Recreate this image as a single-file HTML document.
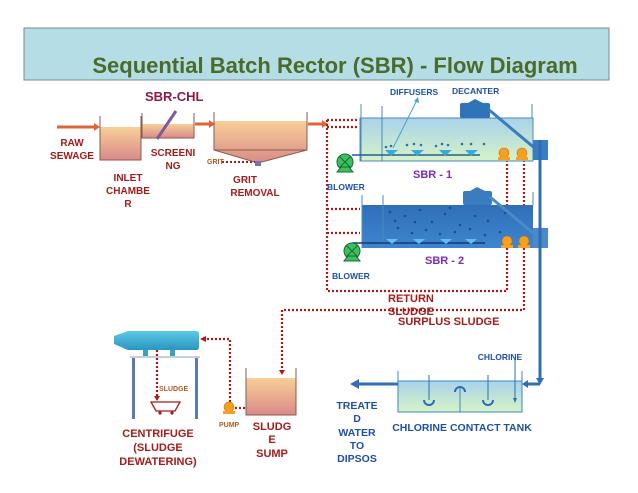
<!DOCTYPE html>
<html><head><meta charset="utf-8"><style>
html,body{margin:0;padding:0;background:#fff;}
svg{display:block;font-family:"Liberation Sans",Arial,sans-serif;font-weight:bold;}
</style></head><body>
<svg width="638" height="493" viewBox="0 0 638 493" xmlns="http://www.w3.org/2000/svg">
<defs>
<linearGradient id="tan" x1="0" y1="0" x2="0" y2="1"><stop offset="0" stop-color="#f7cf98"/><stop offset="1" stop-color="#d98a88"/></linearGradient>
<linearGradient id="lb" x1="0" y1="0" x2="0" y2="1"><stop offset="0" stop-color="#a9d2ea"/><stop offset="1" stop-color="#d6f3c6"/></linearGradient>
<linearGradient id="db" x1="0" y1="0" x2="0" y2="1"><stop offset="0" stop-color="#2f6fb8"/><stop offset="1" stop-color="#3d86cf"/></linearGradient>
<linearGradient id="cy" x1="0" y1="0" x2="0" y2="1"><stop offset="0" stop-color="#5cc8e6"/><stop offset="1" stop-color="#2a95bf"/></linearGradient>
</defs>
<rect x="24" y="28" width="585" height="52" fill="#b4dde6" stroke="#7a8a90" stroke-width="1"/>
<text x="335" y="73" font-size="22" fill="#4a6b2a" text-anchor="middle" font-family="Liberation Sans, sans-serif">Sequential Batch Rector (SBR) - Flow Diagram</text>
<text x="145" y="101" font-size="13" fill="#8a1a4a">SBR-CHL</text>

<line x1="57" y1="127" x2="95" y2="127" stroke="#e2633a" stroke-width="3"/>
<polygon points="94,123 100,127 94,131" fill="#e2633a"/>
<g fill="#a31c1c" font-size="10" text-anchor="middle">
<text x="72" y="146">RAW</text><text x="72" y="159">SEWAGE</text>
<text x="173" y="156">SCREENI</text><text x="173" y="169">NG</text>
<text x="128" y="181">INLET</text><text x="128" y="194">CHAMBE</text><text x="128" y="207">R</text>
<text x="245" y="183">GRIT</text><text x="255" y="196">REMOVAL</text>
</g>
<rect x="100" y="127" width="41" height="33" fill="url(#tan)"/>
<path d="M100,116 V160 H141 V116" fill="none" stroke="#8a5a50" stroke-width="1"/>
<rect x="142" y="124" width="52" height="14" fill="url(#tan)"/>
<path d="M142,113 V138 H194 V113" fill="none" stroke="#8a5a50" stroke-width="1"/>
<line x1="157" y1="139" x2="176" y2="111" stroke="#7a5aa0" stroke-width="3"/>
<line x1="195" y1="124" x2="210" y2="124" stroke="#e2633a" stroke-width="3"/>
<polygon points="209,120 215,124 209,128" fill="#e2633a"/>
<path d="M214,121 H307 V150 L258,163 L214,150 Z" fill="url(#tan)"/>
<path d="M214,112 V150 L258,163 L307,150 V112 M214,150 H307" fill="none" stroke="#8a5a50" stroke-width="1"/>
<rect x="255" y="161" width="6" height="5" fill="#6a7ab0"/>
<line x1="222" y1="162" x2="255" y2="162" stroke="#a31c1c" stroke-width="2" stroke-dasharray="2,2"/>
<text x="207" y="164" font-size="7" fill="#b05a20">GRIT</text>
<line x1="308" y1="124" x2="323" y2="124" stroke="#e2633a" stroke-width="3"/>
<polygon points="322,120 328,124 322,128" fill="#e2633a"/>

<g stroke="#b01818" stroke-width="2.2" stroke-dasharray="2,2" fill="none">
<path d="M327,120 V291 H507 V160"/>
<path d="M327,120 H358 M327,127 H358 M327,209 H360 M327,233 H360"/>
<path d="M282,372 V310 H524 V160"/>
<path d="M230,402 V339 H202"/>
<path d="M235,408 H246"/>
<path d="M157,350 V397"/>
</g>

<rect x="360" y="118" width="173" height="43" fill="url(#lb)" stroke="#4a88c0" stroke-width="1"/>
<line x1="361" y1="104" x2="361" y2="161" stroke="#4a88c0"/>
<line x1="382" y1="106" x2="382" y2="161" stroke="#4a88c0"/>
<line x1="532" y1="104" x2="532" y2="118" stroke="#4a88c0"/>
<rect x="460" y="103" width="30" height="15" rx="2" fill="#2f73b8"/>
<polygon points="468,103 475,99 483,103" fill="#2f73b8"/>
<line x1="488" y1="109" x2="537" y2="150" stroke="#3a7cc0" stroke-width="3"/>
<line x1="352" y1="155" x2="480" y2="155" stroke="#2a5a90" stroke-width="1.5"/>
<g fill="#39a8dd"><polygon points="385,150 398,150 391,156"/><polygon points="411,150 424,150 417,156"/><polygon points="439,150 452,150 445,156"/><polygon points="465,150 478,150 471,156"/></g>
<g fill="#3070b0"><circle cx="386" cy="147" r="1.3"/><circle cx="391" cy="146" r="1.3"/><circle cx="407" cy="145" r="1.3"/><circle cx="414" cy="144" r="1.3"/><circle cx="421" cy="145" r="1.3"/><circle cx="436" cy="146" r="1.3"/><circle cx="442" cy="144" r="1.3"/><circle cx="448" cy="145" r="1.3"/><circle cx="462" cy="144" r="1.3"/><circle cx="471" cy="144" r="1.3"/><circle cx="484" cy="144" r="1.3"/></g>
<line x1="393" y1="148" x2="417" y2="100" stroke="#4aa0d8" stroke-width="1"/>
<polygon points="414,101 418,97 419,103" fill="#4aa0d8"/>
<rect x="362" y="205" width="171" height="43" fill="url(#db)"/>
<line x1="362" y1="195" x2="362" y2="248" stroke="#4a88c0"/>
<line x1="383" y1="195" x2="383" y2="248" stroke="#4a88c0"/>
<line x1="533" y1="192" x2="533" y2="205" stroke="#4a88c0"/>
<rect x="463" y="191" width="29" height="14" rx="2" fill="#3a7cc0"/>
<polygon points="470,191 477,187 485,191" fill="#3a7cc0"/>
<line x1="490" y1="197" x2="538" y2="237" stroke="#4a8ac8" stroke-width="3"/>
<line x1="352" y1="243" x2="485" y2="243" stroke="#1a3a70" stroke-width="1.5"/>
<g fill="#60c0ee"><polygon points="386,239 398,239 392,244"/><polygon points="413,239 425,239 419,244"/><polygon points="440,239 452,239 446,244"/><polygon points="465,239 477,239 471,244"/></g>
<g fill="#1e4f90"><circle cx="390" cy="212" r="1.3"/><circle cx="405" cy="216" r="1.3"/><circle cx="420" cy="210" r="1.3"/><circle cx="432" cy="222" r="1.3"/><circle cx="445" cy="214" r="1.3"/><circle cx="460" cy="225" r="1.3"/><circle cx="475" cy="216" r="1.3"/><circle cx="398" cy="228" r="1.3"/><circle cx="412" cy="233" r="1.3"/><circle cx="426" cy="230" r="1.3"/><circle cx="440" cy="234" r="1.3"/><circle cx="455" cy="232" r="1.3"/><circle cx="470" cy="229" r="1.3"/><circle cx="488" cy="221" r="1.3"/><circle cx="500" cy="232" r="1.3"/><circle cx="395" cy="221" r="1.3"/><circle cx="415" cy="222" r="1.3"/><circle cx="450" cy="208" r="1.3"/><circle cx="505" cy="213" r="1.3"/><circle cx="485" cy="235" r="1.3"/></g>
<rect x="533" y="140" width="15" height="20" fill="#3a7cc0"/>
<rect x="533" y="228" width="15" height="20" fill="#4a8ac8"/>
<line x1="540" y1="140" x2="540" y2="382" stroke="#2f6fb0" stroke-width="3"/>
<polygon points="536,378 540,385 544,378" fill="#2f6fb0"/>
<line x1="540" y1="384" x2="526" y2="384" stroke="#2f6fb0" stroke-width="3"/>
<polygon points="528,380 522,384 528,388" fill="#2f6fb0"/>
<g fill="#f5a020" stroke="#c07010" stroke-width="0.6">
<circle cx="504" cy="153" r="5"/><circle cx="522" cy="153" r="5"/>
<circle cx="507" cy="241" r="5"/><circle cx="524" cy="241" r="5"/>
<circle cx="229" cy="407" r="5"/>
</g>
<g fill="#f5a020"><rect x="498" y="157" width="12" height="3"/><rect x="516" y="157" width="12" height="3"/><rect x="501" y="245" width="12" height="3"/><rect x="518" y="245" width="12" height="3"/><rect x="223" y="411" width="12" height="3"/></g>
<g stroke="#1a6a30" stroke-width="1">
<circle cx="345" cy="162" r="8" fill="#3cc060"/><path d="M339,156 L351,168 M351,156 L339,168"/>
<polygon points="337,172 353,172 349,167 341,167" fill="#3cc060"/>
<circle cx="352" cy="251" r="8" fill="#3cc060"/><path d="M346,245 L358,257 M358,245 L346,257"/>
<polygon points="344,261 360,261 356,256 348,256" fill="#3cc060"/>
</g>
<g fill="#1f4fa8" font-size="8.5"><text x="327" y="190">BLOWER</text><text x="332" y="279">BLOWER</text>
<text x="390" y="95">DIFFUSERS</text><text x="452" y="94">DECANTER</text></g>
<g fill="#7a2ac0" font-size="11"><text x="413" y="178">SBR - 1</text><text x="425" y="264">SBR - 2</text></g>
<g fill="#a31c1c" font-size="11"><text x="388" y="302">RETURN</text><text x="388" y="315">SLUDGE</text><text x="398" y="325">SURPLUS SLUDGE</text></g>

<rect x="398" y="381" width="124" height="31" fill="url(#lb)" stroke="#3a88c8" stroke-width="1"/>
<line x1="398" y1="371" x2="398" y2="412" stroke="#3a88c8"/>
<line x1="522" y1="371" x2="522" y2="412" stroke="#3a88c8"/>
<line x1="460" y1="386" x2="460" y2="412" stroke="#3a88c8"/>
<path d="M455,392 A5,5 0 0 1 465,392" fill="none" stroke="#2a70b0" stroke-width="2"/>
<line x1="429" y1="375" x2="429" y2="400" stroke="#2a70b0"/>
<path d="M424,400 A5,5 0 0 0 434,400" fill="none" stroke="#2a70b0" stroke-width="2"/>
<line x1="488" y1="375" x2="488" y2="400" stroke="#2a70b0"/>
<path d="M483,400 A5,5 0 0 0 493,400" fill="none" stroke="#2a70b0" stroke-width="2"/>
<line x1="515" y1="360" x2="515" y2="400" stroke="#2a70b0"/>
<polygon points="513,398 515,403 517,398" fill="#2a70b0"/>
<line x1="398" y1="384" x2="357" y2="384" stroke="#2f6fb0" stroke-width="3"/>
<polygon points="359,379 350,384 359,389" fill="#2f6fb0"/>
<g fill="#1f4fa8" font-size="10.5" text-anchor="middle">
<text x="500" y="360" font-size="8.5">CHLORINE</text>
<text x="462" y="431">CHLORINE CONTACT TANK</text>
<text x="357" y="409">TREATE</text><text x="357" y="422">D</text><text x="357" y="436">WATER</text><text x="357" y="449">TO</text><text x="357" y="462">DIPSOS</text>
</g>

<path d="M114,336 L128,331 H196 Q199,331 199,334 V347 Q199,350 196,350 H128 L114,344 Z" fill="url(#cy)"/>
<rect x="143" y="350" width="5" height="6" fill="#3aa0c8"/><rect x="170" y="350" width="5" height="6" fill="#3aa0c8"/>
<line x1="130" y1="357" x2="200" y2="357" stroke="#8aa0b8" stroke-width="1"/>
<rect x="132" y="358" width="3" height="61" fill="#5a7ab0"/><rect x="195" y="358" width="3" height="61" fill="#5a7ab0"/>
<polygon points="200,339 206,336 206,342" fill="#b01818"/>
<polygon points="154,396 157,401 160,396" fill="#b01818"/>
<polygon points="279,370 282,375 285,370" fill="#b01818"/>
<path d="M151,402 H180 L175,411 H156 Z" fill="#fff" stroke="#a31c1c" stroke-width="1.3"/>
<circle cx="160" cy="413" r="1.6" fill="#a31c1c"/><circle cx="172" cy="413" r="1.6" fill="#a31c1c"/>
<text x="159" y="391" font-size="7" fill="#b05a20">SLUDGE</text>
<text x="219" y="427" font-size="7" fill="#b05a20">PUMP</text>
<rect x="246" y="378" width="50" height="37" fill="url(#tan)"/>
<path d="M246,368 V415 H296 V368" fill="none" stroke="#8a5a50" stroke-width="1"/>
<g fill="#a31c1c" font-size="11" text-anchor="middle">
<text x="158" y="437">CENTRIFUGE</text><text x="158" y="451">(SLUDGE</text><text x="158" y="465">DEWATERING)</text>
<text x="272" y="430">SLUDG</text><text x="272" y="443">E</text><text x="272" y="457">SUMP</text>
</g>
</svg>
</body></html>
